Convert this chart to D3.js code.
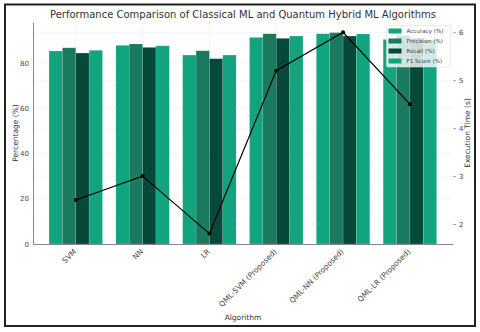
<!DOCTYPE html>
<html>
<head>
<meta charset="utf-8">
<script src="https://cdn.jsdelivr.net/npm/d3@7"></script>
<style>
  body { margin: 0; background: #fff; }
  text { font-family: "DejaVu Sans", sans-serif; }
</style>
</head>
<body>
<div id="chart"></div>
<script>
// data
const algorithms = ["SVM", "NN", "LR", "QML-SVM (Proposed)", "QML-NN (Proposed)", "QML-LR (Proposed)"];
const metrics = ["Accuracy (%)", "Precision (%)", "Recall (%)", "F1 Score (%)"];
const accuracy = [85.2, 87.7, 83.4, 91.2, 92.8, 90.3];
const precision = [86.6, 88.3, 85.3, 92.8, 93.3, 92.0];
const recall = [84.3, 86.8, 81.8, 90.8, 91.8, 90.8];
const f1Score = [85.5, 87.5, 83.4, 91.8, 92.7, 90.0];
const execTime = [2.5, 3.0, 1.8, 5.2, 6.0, 4.5];
const leftTicks = [0, 20, 40, 60, 80];
const rightTicks = [2, 3, 4, 5, 6];

const series = [accuracy, precision, recall, f1Score];
const colors = ["#12a37f", "#1a7a60", "#06493a", "#12a37f"];

const W = 480, H = 332;
const margin = { top: 22, right: 27, bottom: 88, left: 33 };
const width = W - margin.left - margin.right,
  height = H - margin.top - margin.bottom;

const svg = d3.select("#chart").append("svg")
  .attr("width", W).attr("height", H);

// outer frame
svg.append("rect")
  .attr("x", 5).attr("y", 4.5).attr("width", 470).attr("height", 321.5)
  .attr("fill", "none").attr("stroke", "#222").attr("stroke-width", 2);

const g = svg.append("g").attr("transform", `translate(${margin.left},${margin.top})`);

const x = d3.scaleLinear().domain([-0.64, 5.645]).range([0, width]);
const y = d3.scaleLinear().domain([0, 98]).range([height, 0]);
const y2 = d3.scaleLinear().domain([1.583, 6.215]).range([height, 0]);
const barW = 0.2;

// grid
const grid = g.append("g").attr("stroke", "#ddd").attr("stroke-width", 0.6).attr("stroke-dasharray", "2,2");
grid.selectAll(".gy").data(leftTicks.slice(1)).join("line")
  .attr("x1", 0).attr("x2", width).attr("y1", d => y(d)).attr("y2", d => y(d));
grid.selectAll(".gy2").data(rightTicks).join("line")
  .attr("x1", 0).attr("x2", width).attr("y1", d => y2(d)).attr("y2", d => y2(d));
grid.selectAll(".gx").data(algorithms).join("line")
  .attr("x1", (d, i) => x(i)).attr("x2", (d, i) => x(i)).attr("y1", 0).attr("y2", height);

// bars
series.forEach((vals, k) => {
  g.append("g").selectAll("rect").data(vals).join("rect")
    .attr("x", (d, i) => x(i - 0.4 + k * barW))
    .attr("width", x(barW) - x(0))
    .attr("y", d => y(d))
    .attr("height", d => height - y(d))
    .attr("fill", colors[k])
    .attr("stroke", "#fff").attr("stroke-opacity", 0.25).attr("stroke-width", 0.5);
});

// left axis
const yAxis = g.append("g").call(d3.axisLeft(y).tickValues(leftTicks).tickSize(0).tickPadding(4));
yAxis.select(".domain").attr("stroke", "#888");
yAxis.selectAll("text").attr("font-size", 7).attr("fill", "#444");

// bottom axis
const xAxis = g.append("g").attr("transform", `translate(0,${height})`)
  .call(d3.axisBottom(x).tickValues(d3.range(algorithms.length)).tickFormat(i => algorithms[i]).tickSize(0));
xAxis.select(".domain").attr("stroke", "#888");
xAxis.selectAll("text")
  .attr("font-size", 7.5).attr("fill", "#444")
  .attr("text-anchor", "end")
  .attr("dy", 0)
  .attr("transform", "translate(-1.5,6) rotate(-45)");

// right axis
const rAxis = g.append("g").attr("transform", `translate(${width},0)`)
  .call(d3.axisRight(y2).tickValues(rightTicks).tickFormat(d3.format("d")).tickSize(3).tickPadding(3));
rAxis.select(".domain").remove();
rAxis.selectAll("line").attr("stroke", "#666").attr("stroke-width", 0.6);
rAxis.selectAll("text").attr("font-size", 7).attr("fill", "#444");

// execution time line
g.append("path").datum(execTime)
  .attr("fill", "none").attr("stroke", "#000").attr("stroke-width", 1.2)
  .attr("d", d3.line().x((d, i) => x(i)).y(d => y2(d)));
g.append("g").selectAll("circle").data(execTime).join("circle")
  .attr("cx", (d, i) => x(i)).attr("cy", d => y2(d)).attr("r", 2).attr("fill", "#000");

// legend
const lg = svg.append("g").attr("transform", "translate(386.5,25.5)");
lg.append("rect").attr("width", 64).attr("height", 41.5).attr("rx", 1.5)
  .attr("fill", "#fff").attr("fill-opacity", 0.8).attr("stroke", "#ddd").attr("stroke-width", 0.6);
metrics.forEach((m, k) => {
  lg.append("rect").attr("x", 2).attr("y", 3 + k * 10).attr("width", 13).attr("height", 5)
    .attr("fill", colors[k]);
  lg.append("text").attr("x", 20).attr("y", 5.5 + k * 10).attr("dy", "0.35em")
    .attr("font-size", 5.6).attr("fill", "#444").text(m);
});

// labels
svg.append("text").attr("x", 243).attr("y", 18).attr("text-anchor", "middle")
  .attr("font-size", 10).attr("fill", "#333")
  .text("Performance Comparison of Classical ML and Quantum Hybrid ML Algorithms");
svg.append("text").attr("x", margin.left + width / 2).attr("y", 320).attr("text-anchor", "middle")
  .attr("font-size", 7.5).attr("fill", "#333").text("Algorithm");
svg.append("text").attr("transform", `translate(17.5,${margin.top + height / 2}) rotate(-90)`)
  .attr("text-anchor", "middle").attr("font-size", 7.5).attr("fill", "#333").text("Percentage (%)");
svg.append("text").attr("transform", `translate(470,${margin.top + height / 2}) rotate(-90)`)
  .attr("text-anchor", "middle").attr("font-size", 7.5).attr("fill", "#333").text("Execution Time (s)");
</script>
</body>
</html>
